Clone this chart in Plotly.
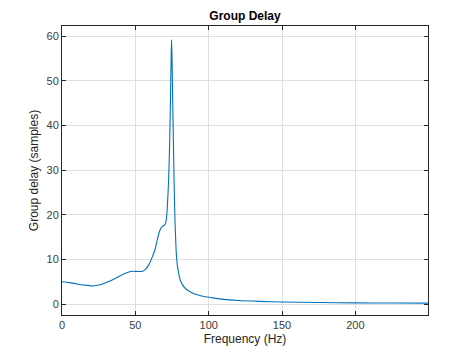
import plotly.graph_objects as go

# Frequency (Hz) and group delay (samples)
freq = [0, 5, 10, 15, 21, 26, 30, 35, 40, 45, 48, 52, 55, 57, 59.5, 61.5, 63.3,
        65, 66.5, 68, 69.5, 70.5, 71.3, 72, 72.7, 73.3, 73.9, 74.4, 74.7, 75.0,
        75.5, 76.0, 76.5, 77, 77.8, 78.5, 79.5, 80.5, 82, 84, 87, 90, 94, 100,
        110, 120, 135, 150, 175, 200, 225, 249.5]
delay = [5.0, 4.8, 4.5, 4.25, 4.05, 4.3, 4.8, 5.5, 6.4, 7.1, 7.35, 7.3, 7.35,
         7.8, 9.0, 10.5, 12.1, 14.5, 16.3, 17.3, 17.6, 18.0, 19.5, 23, 28, 35,
         45, 55, 59.2, 55, 45, 35, 26, 19, 12, 9, 7, 5.5, 4.4, 3.5, 2.8, 2.3,
         1.9, 1.5, 1.05, 0.8, 0.6, 0.45, 0.33, 0.26, 0.22, 0.2]

x_ticks = [0, 50, 100, 150, 200]
y_ticks = [0, 10, 20, 30, 40, 50, 60]

FONT = "Liberation Sans, Arial, sans-serif"

fig = go.Figure()
fig.add_trace(go.Scatter(x=freq, y=delay, mode="lines",
                         line=dict(color="#0072BD", width=1.1, shape="spline", smoothing=0.6),
                         hoverinfo="x+y"))

axis_common = dict(
    showline=True, linecolor="#262626", linewidth=1, mirror="ticks",
    ticks="inside", ticklen=4, tickcolor="#262626",
    showgrid=True, gridcolor="#dfdfdf", gridwidth=1, zeroline=False,
    tickfont=dict(family=FONT, size=11, color="#404040"),
)

fig.update_layout(
    width=466, height=347,
    margin=dict(l=54, r=46, t=18, b=40, autoexpand=False),
    paper_bgcolor="white", plot_bgcolor="white",
    showlegend=False,
    title=dict(text="<b>Group Delay</b>", x=0.5, xanchor="center", y=0.99, yanchor="top",
               xref="paper",
               font=dict(family=FONT, size=12, color="#000000")),
    xaxis=dict(range=[0, 249.5], tickvals=x_ticks,
               title=dict(text="Frequency (Hz)", standoff=4,
                          font=dict(family=FONT, size=12, color="#262626")),
               **axis_common),
    yaxis=dict(range=[-2.46, 62.3], tickvals=y_ticks,
               title=dict(text="Group delay (samples)", standoff=5,
                          font=dict(family=FONT, size=12, color="#262626")),
               **axis_common),
)

fig.write_html("out.html")
